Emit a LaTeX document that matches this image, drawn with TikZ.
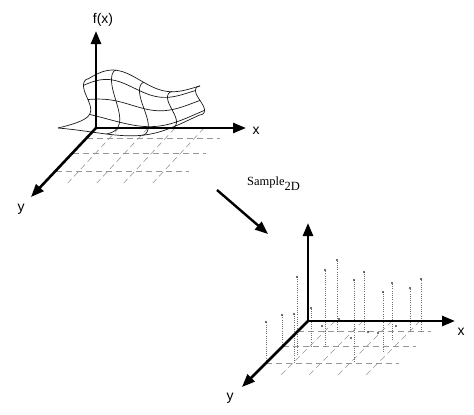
\documentclass[tikz,border=0pt]{standalone}
\usepackage{fontspec}
\setmainfont{Liberation Serif}
\setsansfont{Liberation Sans}
\usetikzlibrary{arrows.meta}

\definecolor{gridgray}{RGB}{150,150,150}
\definecolor{dotgray}{RGB}{110,110,110}

\begin{document}
\begin{tikzpicture}[x=1pt, y=-1pt,
  axis/.style={line width=2.6pt, -{Triangle[length=13pt, width=10pt]}},
  groundgrid/.style={gridgray, line width=0.6pt, dash pattern=on 6pt off 4pt},
  mesh/.style={black!90, line width=0.7pt},
  sampleline/.style={dotgray, line width=0.6pt, dash pattern=on 1pt off 1.2pt},
  axislabel/.style={font=\sffamily\fontsize{14}{16}\selectfont, inner sep=0pt},
  declare function={
    surfback(\x)=79+7*\x-12*sin(360*\x)*(1-0.5*\x);
    surffront(\x)=120+15*sin(200*\x);
    surfrise(\y)=3*\y*\y-2*\y*\y*\y;
    surftail(\x,\y)=(1-\x)*(1-\x)*(1-\x)*(1-\x)*\y*\y*\y*\y*\y*\y*\y*\y;
    surfx(\x,\y)=88+112*\x-30*surftail(\x,\y)-4.5*sin(360*\y);
    surfy(\x,\y)=surfback(\x)+(surffront(\x)-surfback(\x))*surfrise(\y)+8*surftail(\x,\y);
  }]
  \useasboundingbox (0,0) rectangle (474,415);

  \def\kA{0.93} % slant of the first y axis
  \def\kB{1.0}  % slant of the second y axis

  % Ground grid under the surface
  \foreach \v in {10,25,43} {
    \draw[groundgrid] ({96-\kA*\v},{128+\v}) -- ({229-\kA*\v},{128+\v});
  }
  \foreach \u in {23,52,79,108} {
    \draw[groundgrid] ({96+\u},128) -- ({96+\u-\kA*55},183);
  }

  % Surface f(x)
  \foreach \rowt in {0,0.25,0.5,0.75,1} {
    \draw[mesh] plot[domain=0:1, samples=40, smooth, variable=\x]
      ({surfx(\x,\rowt)},{surfy(\x,\rowt)});
  }
  \foreach \cols in {0,0.25,0.5,0.75,1} {
    \draw[mesh] plot[domain=0:1, samples=40, smooth, variable=\x]
      ({surfx(\cols,\x)},{surfy(\cols,\x)});
  }

  % Ground grid under the samples
  \foreach \v in {10,25,42} {
    \draw[groundgrid] ({308-\kB*\v},{321+\v}) -- ({441-\kB*\v},{321+\v});
  }
  \foreach \u in {27,55,84,112} {
    \draw[groundgrid] ({308+\u},321) -- ({308+\u-\kB*55},376);
  }

  % Samples
  \foreach \gx/\gy/\ty in {266/363/322, 282/347/315, 294/363/314, 297/355/277,
                           311/347/308, 325/347/270, 337/332/260, 354/362/280,
                           364/332/272, 383/352/292, 392/340/283, 410/332/288,
                           421/332/279} {
    \draw[sampleline] (\gx,\gy) -- (\gx,\ty);
    \fill[black!75] (\gx,\ty) circle (1.1pt);
  }
  \foreach \gx/\gy in {322/326, 339/319, 351/338, 368/332, 378/333, 396/326} {
    \fill[black!75] (\gx,\gy) circle (1.1pt);
  }

  % Axes
  \coordinate (oA) at (96,128);
  \coordinate (fA) at (96,31);
  \coordinate (xA) at (246,128);
  \coordinate (yA) at (31,197);
  \draw[axis] (oA) -- (fA);
  \draw[axis] (oA) -- (xA);
  \draw[axis] (oA) -- (yA);
  \node[axislabel] (fAl) at (103,20) {f(x)};
  \node[axislabel] (xAl) at (256,131) {x};
  \node[axislabel] (yAl) at (21,209) {y};

  \coordinate (oB) at (308,321);
  \coordinate (fB) at (308,223);
  \coordinate (xB) at (455,321);
  \coordinate (yB) at (242,387);
  \draw[axis] (oB) -- (fB);
  \draw[axis] (oB) -- (xB);
  \draw[axis] (oB) -- (yB);
  \node[axislabel] (xBl) at (461,332) {x};
  \node[axislabel] (yBl) at (230,398) {y};

  % Sampling step
  \coordinate (sa) at (217,190);
  \coordinate (sb) at (268,234);
  \draw[axis, line width=2.4pt] (sa) -- (sb);
  \node[anchor=base west, inner sep=0pt, font=\fontsize{12.5}{14}\selectfont]
    (samplelabel) at (247,185) {Sample\raisebox{-5pt}{2D}};
\end{tikzpicture}
\end{document}
